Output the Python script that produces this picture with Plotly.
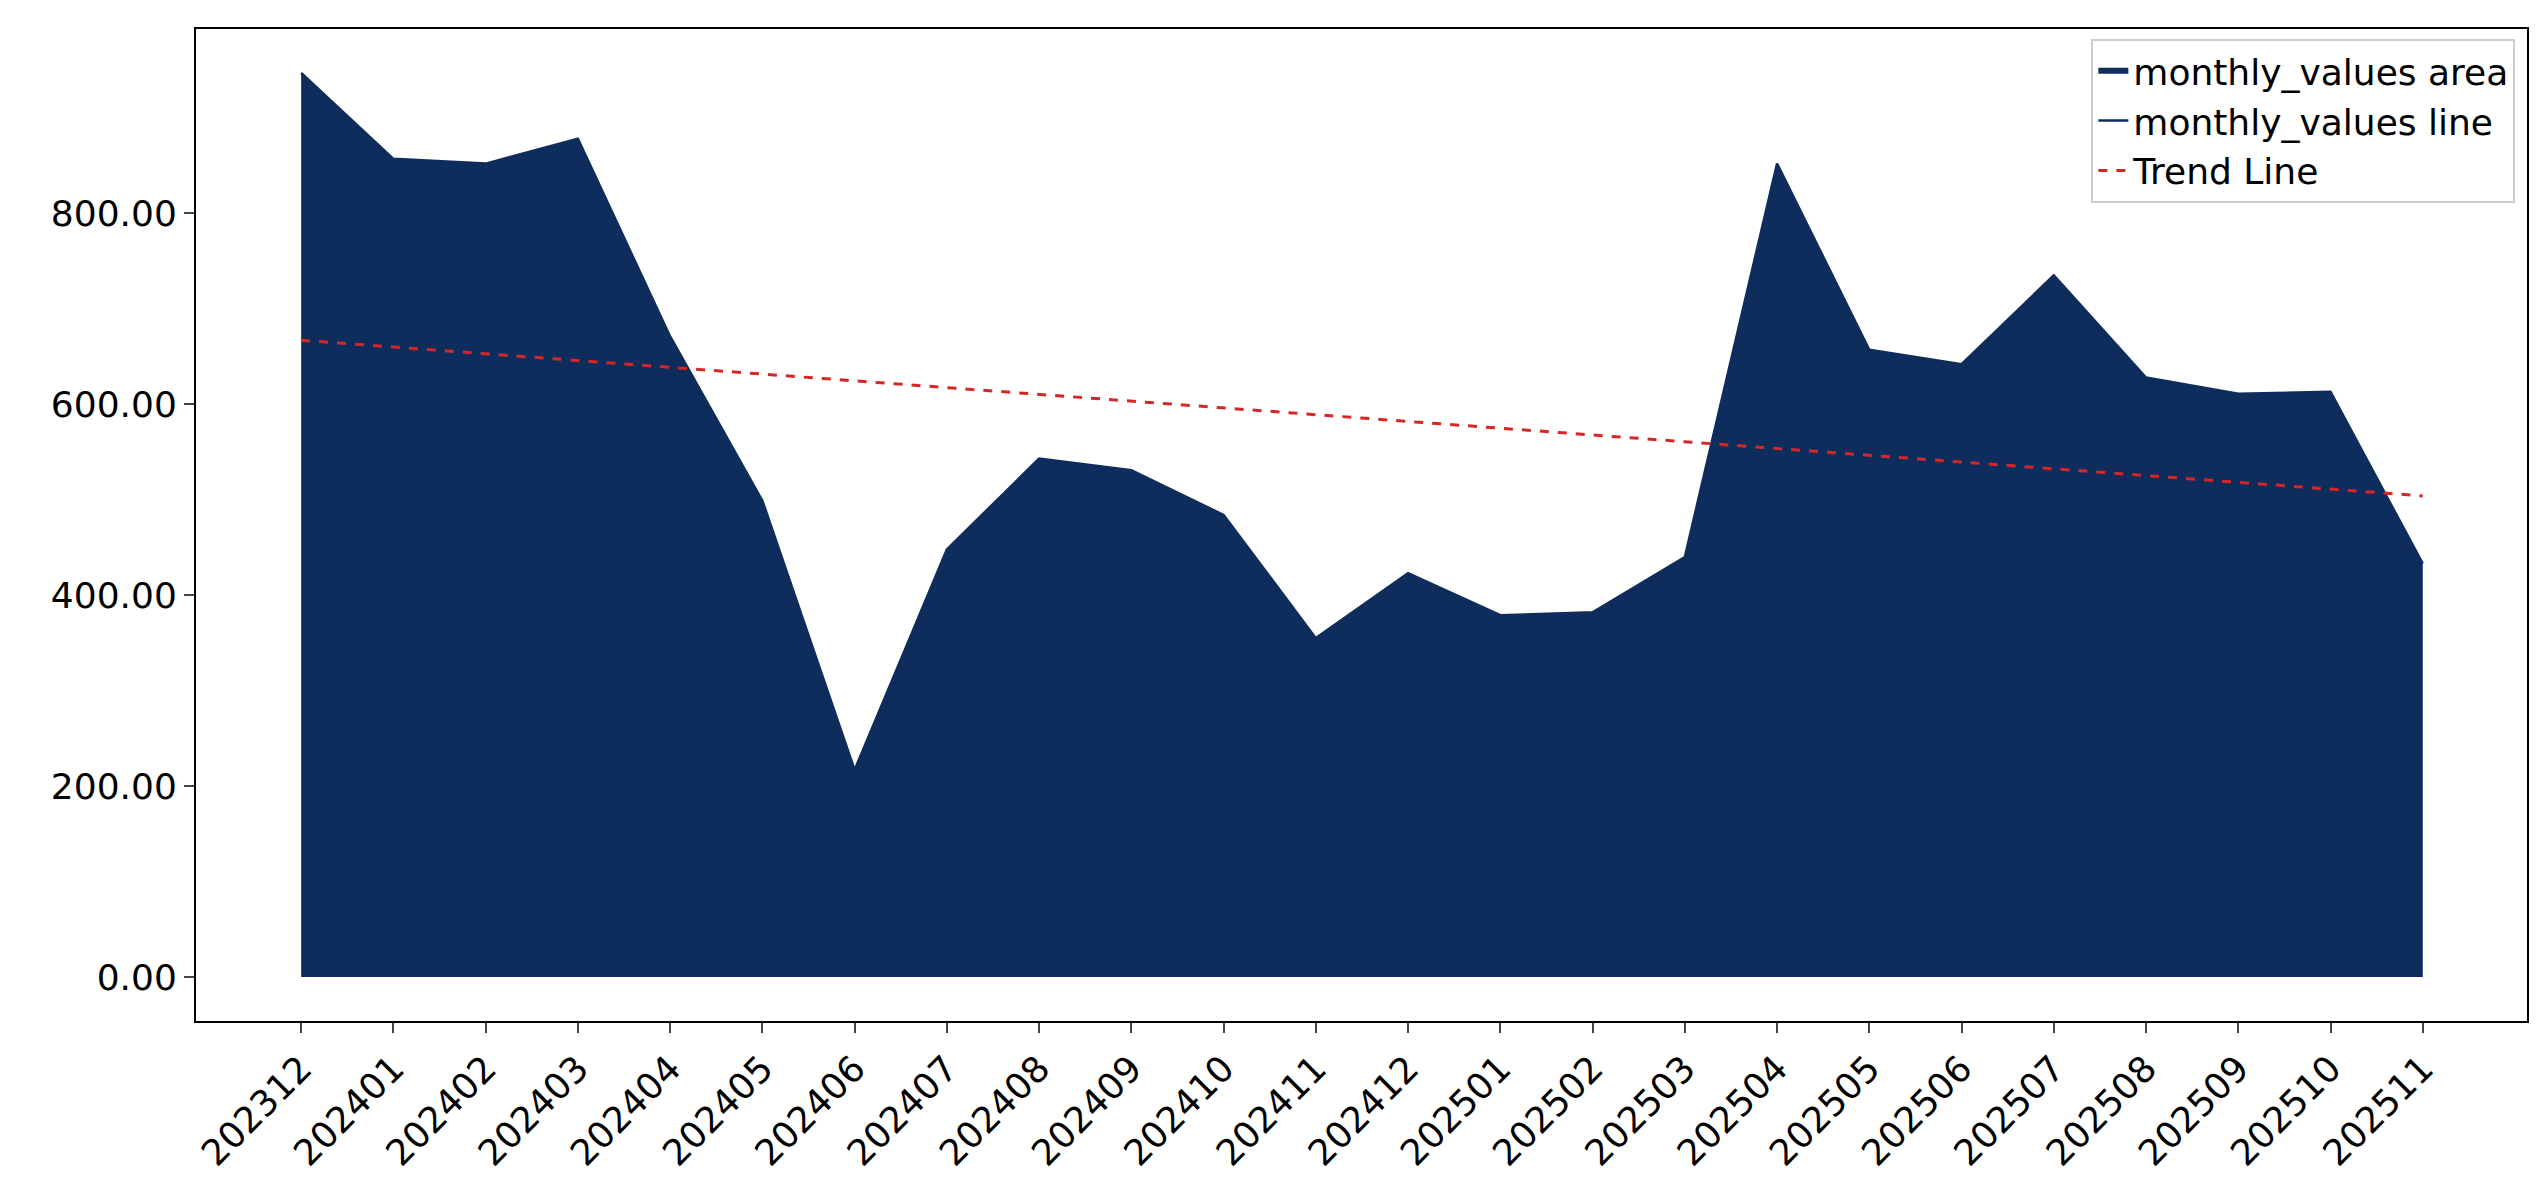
import plotly.graph_objects as go

months = ["202312","202401","202402","202403","202404","202405","202406","202407","202408","202409","202410","202411",
          "202412","202501","202502","202503","202504","202505","202506","202507","202508","202509","202510","202511"]
monthly_values = [947,857,852,878,671,499,217,448,543,531,484,355,423,379,382,440,852,657,642,735,628,611,613,433]
trend_months = ["202312","202511"]
trend_values = [667,504]

navy = "#0e2d5c"
fig = go.Figure()
fig.add_trace(go.Scatter(x=months, y=monthly_values, fill="tozeroy", fillcolor=navy, mode="none",
                         name="monthly_values area"))
fig.add_trace(go.Scatter(x=months, y=monthly_values, mode="lines", line=dict(color=navy, width=2.5),
                         name="monthly_values line"))
fig.add_trace(go.Scatter(x=trend_months, y=trend_values, mode="lines", line=dict(color="#d62728", width=3, dash="dash"),
                         name="Trend Line"))
fig.update_layout(
    width=2542, height=1199, paper_bgcolor="white", plot_bgcolor="white",
    margin=dict(l=188, r=23, t=21, b=186),
    font=dict(family="DejaVu Sans", size=36, color="black"),
    showlegend=True,
    legend=dict(x=0.995, y=0.99, xanchor="right", yanchor="top", bordercolor="#cccccc", borderwidth=2,
                bgcolor="rgba(255,255,255,0.8)", font=dict(size=36)),
)
fig.update_xaxes(type="category", range=[-1.14, 24.13], tickangle=-45, showline=True, linecolor="black", mirror=True,
                 linewidth=2, ticks="outside", ticklen=10, tickwidth=2, showgrid=False, tickfont=dict(size=36))
fig.update_yaxes(range=[-46, 993], tickformat=".2f", tickvals=[0,200,400,600,800], showline=True, linecolor="black",
                 mirror=True, linewidth=2, ticks="outside", ticklen=10, tickwidth=2, showgrid=False, zeroline=False,
                 tickfont=dict(size=36))
fig.write_html("out.html")
